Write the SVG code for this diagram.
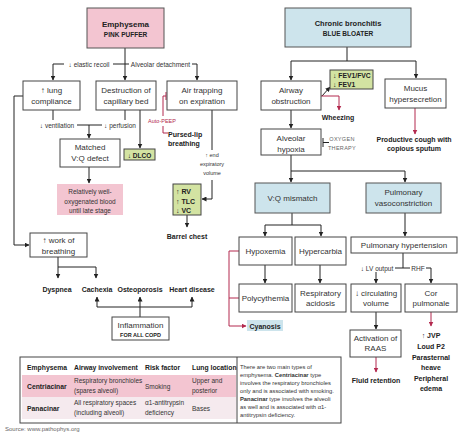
<svg xmlns="http://www.w3.org/2000/svg" width="474" height="439" viewBox="0 0 474 439">
<defs>
<marker id="ah" viewBox="0 0 10 10" refX="9" refY="5" markerWidth="5" markerHeight="5" orient="auto"><path d="M0,0 L10,5 L0,10 z" fill="#222"/></marker>
<marker id="ahr" viewBox="0 0 10 10" refX="9" refY="5" markerWidth="5" markerHeight="5" orient="auto"><path d="M0,0 L10,5 L0,10 z" fill="#b3294e"/></marker>
<style>
.bx{fill:#fff;stroke:#444;stroke-width:1}
.pk{fill:#f3c5d1;stroke:#555;stroke-width:1}
.bl{fill:#cde4ec;stroke:#555;stroke-width:1}
.gr{fill:#d3e3a2;stroke:#444;stroke-width:1}
.t{font-family:"Liberation Sans",Arial,sans-serif;font-size:8px;fill:#333;text-anchor:middle}
.s{font-size:6.5px}
.xs{font-size:5.5px}
.b{font-weight:bold;fill:#222}
.l{text-anchor:start}
.ln{stroke:#222;stroke-width:1;fill:none}
.a{marker-end:url(#ah)}
.rd{stroke:#b3294e;stroke-width:1;fill:none}
.ar{marker-end:url(#ahr)}
</style>
</defs>
<rect width="474" height="439" fill="#fff"/>

<g id="connectors">
<path class="ln a" d="M125,48 V80"/>
<path class="ln a" d="M64,64 H53 V80"/>
<path class="ln" d="M113,64 H129"/>
<path class="ln a" d="M192,64 H197 V80"/>
<path class="ln a" d="M23,96 H14 V245 H29"/>
<path class="ln" d="M53,110 V120"/>
<path class="ln" d="M77,125 H102"/>
<path class="ln a" d="M89,125 V138"/>
<path class="ln" d="M125,110 V120"/>
<path class="ln a" d="M140,110 V148"/>
<path class="ln a" d="M89,167 V183"/>
<path class="ln" d="M212,110 V150"/>
<path class="ln a" d="M212,180 V199 H202"/>
<path class="ln a" d="M187,215 V227"/>
<path class="rd" d="M168,133 H163 V126"/>
<path class="rd" d="M163,116 V96 H166"/>
<path class="rd" d="M166,92 V100"/>
<path class="ln" d="M58,257 V267 H96"/>
<path class="ln a" d="M58,267 V278"/>
<path class="ln a" d="M96,267 V278"/>
<path class="ln a" d="M140,317 V297"/>
<path class="ln" d="M97,307 H192"/>
<path class="ln a" d="M97,307 V297"/>
<path class="ln a" d="M192,307 V297"/>

<path class="ln" d="M347,47 V61"/>
<path class="ln" d="M291,61 H416"/>
<path class="ln a" d="M291,61 V80"/>
<path class="ln a" d="M416,61 V78"/>
<path class="ln a" d="M322,96 L330,87"/>
<path class="rd ar" d="M321,96 H339 V110"/>
<path class="ln a" d="M291,110 V128"/>
<path class="ln" d="M323,138 V147 M323,142.5 H329"/>
<path class="rd ar" d="M415,108 V134"/>
<path class="ln" d="M291,155 V171 M265,171"/>
<path class="ln" d="M291,171 H405"/>
<path class="ln a" d="M291,171 V182"/>
<path class="ln a" d="M405,171 V182"/>
<path class="ln" d="M292,213 V225"/>
<path class="ln" d="M265,225 H321"/>
<path class="ln a" d="M265,225 V236"/>
<path class="ln a" d="M321,225 V236"/>
<path class="ln a" d="M265,265 V283"/>
<path class="ln a" d="M320,265 V283"/>
<path class="rd ar" d="M239,251 H229 V326 H246"/>
<path class="rd" d="M239,298 H229"/>
<path class="ln a" d="M405,213 V236"/>
<path class="ln" d="M403,253 V268"/>
<path class="ln" d="M395,268 H410"/>
<path class="ln a" d="M426,268 H431 V283"/>
<path class="ln a" d="M376,272 V283"/>
<path class="ln a" d="M376,312 V329"/>
<path class="rd ar" d="M376,357 V372"/>
<path class="rd ar" d="M431,312 V326"/>
</g>

<g id="labels">
<text class="t s" x="89" y="66.5">↓ elastic recoil</text>
<text class="t s" x="160.5" y="66.5">Alveolar detachment</text>
<text class="t s" x="57" y="127.5">↓ ventilation</text>
<text class="t s" x="120" y="127.5">↓ perfusion</text>
<text class="t xs" x="212" y="157">↑ end</text>
<text class="t xs" x="212" y="166">expiratory</text>
<text class="t xs" x="212" y="175">volume</text>
<text class="t xs" x="162" y="123" fill="#b3294e" style="fill:#b3294e">Auto-PEEP</text>
<text class="t xs" x="342" y="141" style="fill:#666;letter-spacing:0.3px">OXYGEN</text>
<text class="t xs" x="342" y="150" style="fill:#666;letter-spacing:0.3px">THERAPY</text>
<text class="t s" x="377" y="270.5">↓ LV output</text>
<text class="t s" x="418" y="270.5">RHF</text>
</g>

<g id="emphysema"><rect class="pk" x="87" y="8" width="77" height="40"/><text class="t b" x="125.5" y="27" style="font-size:8px">Emphysema</text><text class="t b s" x="125.5" y="37">PINK PUFFER</text></g>
<g id="lung-compliance"><rect class="bx" x="23" y="81" width="57" height="29"/><text class="t" x="51.5" y="93">↑ lung</text><text class="t" x="51.5" y="104">compliance</text></g>
<g id="destruction"><rect class="bx" x="96" y="81" width="60" height="29"/><text class="t" x="126" y="93">Destruction of</text><text class="t" x="126" y="104">capillary bed</text></g>
<g id="air-trapping"><rect class="bx" x="167" y="81" width="70" height="29"/><text class="t" x="202" y="93">Air trapping</text><text class="t" x="202" y="104">on expiration</text></g>
<g id="matched"><rect class="bx" x="60" y="139" width="60" height="28"/><text class="t" x="90" y="150">Matched</text><text class="t" x="90" y="161">V:Q defect</text></g>
<g id="dlco"><rect class="gr" x="124" y="149" width="31" height="11"/><text class="t b s" x="139.5" y="157.5">↓ DLCO</text></g>
<g id="pursed-lip"><text class="t b l" x="168" y="137" style="font-size:7px">Pursed-lip</text><text class="t b l" x="168" y="146" style="font-size:7px">breathing</text></g>
<g id="well-oxygenated"><rect x="57" y="184" width="66" height="31" fill="#f3c5d1"/><text class="t s" x="90" y="194">Relatively well-</text><text class="t s" x="90" y="203.5">oxygenated blood</text><text class="t s" x="90" y="213">until late stage</text></g>
<g id="rv-tlc-vc"><rect class="gr" x="173" y="184" width="28" height="31"/><text class="t b l" x="176" y="194" style="font-size:7px">↑ RV</text><text class="t b l" x="176" y="203.5" style="font-size:7px">↑ TLC</text><text class="t b l" x="176" y="213" style="font-size:7px">↓ VC</text></g>
<g id="barrel-chest"><text class="t b" x="187" y="238.5" style="font-size:7px">Barrel chest</text></g>
<g id="work-of-breathing"><rect class="bx" x="30" y="233" width="57" height="24"/><text class="t" x="58.5" y="243">↑ work of</text><text class="t" x="58.5" y="254">breathing</text></g>
<g id="dyspnea"><text class="t b" x="57" y="292" style="font-size:7px">Dyspnea</text></g>
<g id="cachexia"><text class="t b" x="97" y="292" style="font-size:7px">Cachexia</text></g>
<g id="osteoporosis"><text class="t b" x="140" y="292" style="font-size:7px">Osteoporosis</text></g>
<g id="heart-disease"><text class="t b" x="192" y="292" style="font-size:7px">Heart disease</text></g>
<g id="inflammation"><rect class="bx" x="112" y="317" width="57" height="23"/><text class="t" x="140.5" y="327.5">Inflammation</text><text class="t b xs" x="140.5" y="337">FOR ALL COPD</text></g>

<g id="chronic-bronchitis"><rect class="bl" x="285" y="8" width="126" height="39"/><text class="t b" x="348" y="26" style="font-size:7.5px">Chronic bronchitis</text><text class="t b s" x="348" y="36">BLUE BLOATER</text></g>
<g id="airway-obstruction"><rect class="bx" x="261" y="81" width="60" height="29"/><text class="t" x="291" y="93">Airway</text><text class="t" x="291" y="104">obstruction</text></g>
<g id="fev"><rect class="gr" x="330" y="70" width="43" height="19"/><text class="t b l" x="333" y="78" style="font-size:6.8px">↓ FEV1/FVC</text><text class="t b l" x="333" y="87" style="font-size:6.8px">↓ FEV1</text></g>
<g id="wheezing"><text class="t b" x="338" y="120" style="font-size:7px">Wheezing</text></g>
<g id="mucus"><rect class="bx" x="385" y="79" width="61" height="29"/><text class="t" x="415.5" y="91">Mucus</text><text class="t" x="415.5" y="102">hypersecretion</text></g>
<g id="productive-cough"><text class="t b" x="414" y="141.5" style="font-size:7px">Productive cough with</text><text class="t b" x="414" y="150.5" style="font-size:7px">copious sputum</text></g>
<g id="alveolar-hypoxia"><rect class="bx" x="261" y="129" width="60" height="26"/><text class="t" x="291" y="141">Alveolar</text><text class="t" x="291" y="152">hypoxia</text></g>
<g id="vq-mismatch"><rect class="bl" x="255" y="183" width="75" height="30"/><text class="t" x="292.5" y="201">V:Q mismatch</text></g>
<g id="pulmonary-vasoconstriction"><rect class="bl" x="366" y="183" width="75" height="30"/><text class="t" x="403.5" y="195">Pulmonary</text><text class="t" x="403.5" y="206">vasoconstriction</text></g>
<g id="hypoxemia"><rect class="bx" x="239" y="237" width="53" height="28"/><text class="t" x="265.5" y="254">Hypoxemia</text></g>
<g id="hypercarbia"><rect class="bx" x="295" y="237" width="51" height="28"/><text class="t" x="320.5" y="254">Hypercarbia</text></g>
<g id="polycythemia"><rect class="bx" x="239" y="284" width="53" height="28"/><text class="t" x="265.5" y="301">Polycythemia</text></g>
<g id="respiratory-acidosis"><rect class="bx" x="295" y="284" width="51" height="28"/><text class="t" x="320.5" y="295.5">Respiratory</text><text class="t" x="320.5" y="305.5">acidosis</text></g>
<g id="cyanosis"><rect x="247" y="320" width="36" height="11" fill="#cde4ec"/><text class="t b" x="265" y="328.5" style="font-size:7px">Cyanosis</text></g>
<g id="pulmonary-hypertension"><rect class="bx" x="351" y="237" width="106" height="16"/><text class="t" x="404" y="248">Pulmonary hypertension</text></g>
<g id="circulating-volume"><rect class="bx" x="351" y="284" width="50" height="28"/><text class="t" x="376" y="296">↓ circulating</text><text class="t" x="376" y="306">volume</text></g>
<g id="cor-pulmonale"><rect class="bx" x="405" y="284" width="52" height="28"/><text class="t" x="431" y="296">Cor</text><text class="t" x="431" y="306">pulmonale</text></g>
<g id="raas"><rect class="bx" x="350" y="330" width="51" height="27"/><text class="t" x="375.5" y="340.5">Activation of</text><text class="t" x="375.5" y="350.5">RAAS</text></g>
<g id="fluid-retention"><text class="t b" x="376" y="382.5" style="font-size:7px">Fluid retention</text></g>
<g id="signs"><text class="t b" x="431" y="337.5" style="font-size:7px">↑ JVP</text><text class="t b" x="431" y="349" style="font-size:7px">Loud P2</text><text class="t b" x="431" y="360" style="font-size:7px">Parasternal</text><text class="t b" x="431" y="369.5" style="font-size:7px">heave</text><text class="t b" x="431" y="381" style="font-size:7px">Peripheral</text><text class="t b" x="431" y="390.5" style="font-size:7px">edema</text></g>

<g id="table">
<rect x="20" y="357" width="321" height="66" fill="#fff" stroke="#444" stroke-width="1"/>
<line x1="237" y1="357" x2="237" y2="423" stroke="#444" stroke-width="1"/>
<rect x="22" y="375" width="214" height="22" fill="#f3c5d1"/>
<rect x="22" y="397" width="214" height="22" fill="#f5eaee"/>
<text class="t b l" x="27" y="370" style="font-size:6.8px">Emphysema</text>
<text class="t b l" x="74" y="370" style="font-size:6.8px">Airway involvement</text>
<text class="t b l" x="145" y="370" style="font-size:6.8px">Risk factor</text>
<text class="t b l" x="192" y="370" style="font-size:6.8px">Lung location</text>
<text class="t b l" x="27" y="389" style="font-size:6.8px">Centriacinar</text>
<text class="t s l" x="74" y="383">Respiratory bronchioles</text>
<text class="t s l" x="74" y="392.5">(spares alveoli)</text>
<text class="t s l" x="145" y="389">Smoking</text>
<text class="t s l" x="192" y="383">Upper and</text>
<text class="t s l" x="192" y="392.5">posterior</text>
<text class="t b l" x="27" y="411" style="font-size:6.8px">Panacinar</text>
<text class="t s l" x="74" y="405">All respiratory spaces</text>
<text class="t s l" x="74" y="414.5">(including alveoli)</text>
<text class="t s l" x="145" y="405">α1-antitrypsin</text>
<text class="t s l" x="145" y="414.5">deficiency</text>
<text class="t s l" x="192" y="411">Bases</text>
</g>
<g id="note" style="font-family:'Liberation Sans',Arial,sans-serif;font-size:5.8px;fill:#333">
<text x="240" y="369">There are two main types of</text>
<text x="240" y="377">emphysema. <tspan font-weight="bold">Centriacinar</tspan> type</text>
<text x="240" y="385">involves the respiratory bronchioles</text>
<text x="240" y="393">only and is associated with smoking.</text>
<text x="240" y="401"><tspan font-weight="bold">Panacinar</tspan> type involves the alveoli</text>
<text x="240" y="409">as well and is associated with α1-</text>
<text x="240" y="417">antitrypsin deficiency.</text>
</g>
<g id="source"><text x="5" y="431" style="font-family:'Liberation Sans',Arial,sans-serif;font-size:6px;fill:#666">Source: www.pathophys.org</text></g>
</svg>
